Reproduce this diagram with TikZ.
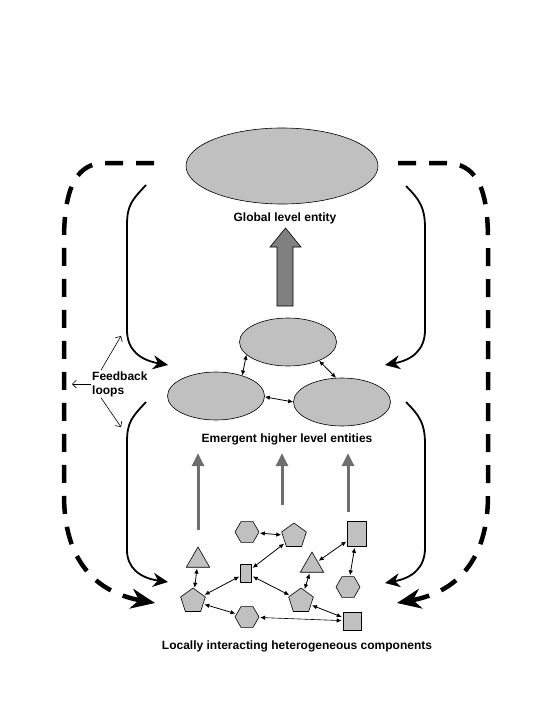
\documentclass[tikz,border=0pt]{standalone}
\usepackage{fontspec}
\setmainfont{Liberation Sans}
\definecolor{entgray}{RGB}{192,192,192}
\definecolor{liftgray}{RGB}{128,128,128}
\definecolor{risegray}{RGB}{110,110,110}
\usetikzlibrary{arrows.meta}
\usetikzlibrary{shapes.geometric}

\begin{document}
\begin{tikzpicture}[x=1pt,y=-1pt,
    entity/.style={ellipse,draw=black,line width=0.6pt,fill=entgray,inner sep=0pt},
    part/.style={regular polygon,draw=black,line width=0.6pt,fill=entgray,inner sep=0pt},
    box/.style={rectangle,draw=black,line width=0.6pt,fill=entgray,inner sep=0pt},
    link/.style={{Latex[length=5pt,width=4.5pt]}-{Latex[length=5pt,width=4.5pt]},line width=0.8pt,shorten <=1pt,shorten >=1pt},
    loopline/.style={-{Stealth[length=15pt,width=14pt]},line width=1.8pt},
    loopdash/.style={-{Stealth[length=24pt,width=20pt]},line width=4.5pt,dash pattern=on 18pt off 13pt},
    rise/.style={-{Triangle[length=13pt,width=12pt]},line width=3pt,draw=risegray,shorten >=5pt},
    fbarrow/.style={-{Straight Barb[length=4pt,width=8pt]},line width=0.6pt},
    lbl/.style={font=\fontsize{12}{14}\selectfont\bfseries}]
    \useasboundingbox (0,0) rectangle (540,720);

    \node[entity,minimum width=192pt,minimum height=76pt] (global) at (282,166) {};
    \node[lbl] (globaltxt) at (285,218) {Global level entity};
    \filldraw[fill=liftgray,line width=0.6pt] (270,247) -- (285.5,228) -- (301,247) -- (293,247) -- (293,306) -- (277,306) -- (277,247) -- cycle;

    \node[entity,minimum width=97pt,minimum height=48pt] (midtop) at (288,342) {};
    \node[entity,minimum width=97pt,minimum height=48pt] (midleft) at (216,396) {};
    \node[entity,minimum width=97pt,minimum height=48pt] (midright) at (342,402) {};
    \draw[link,shorten <=0pt,shorten >=0pt] (midtop.197) -- (midleft.38);
    \draw[link,shorten <=0pt,shorten >=0pt] (midtop.329) -- (midright.104);
    \draw[link,shorten <=0pt,shorten >=0pt] (midleft.359) -- (midright.180);
    \node[lbl] (emerge) at (287,439) {Emergent higher level entities};

    \coordinate (riseA) at (198,530);
    \coordinate (riseB) at (282,505);
    \coordinate (riseC) at (348,512);
    \draw[rise] (riseA) -- (riseA |- emerge.south);
    \draw[rise] (riseB) -- (riseB |- emerge.south);
    \draw[rise] (riseC) -- (riseC |- emerge.south);

    \node[part,regular polygon sides=3,minimum size=27pt] (triA) at (198,560.5) {};
    \node[part,regular polygon sides=5,minimum size=26pt] (pentA) at (193,601) {};
    \node[part,regular polygon sides=6,minimum size=24pt] (hexA) at (247,532) {};
    \node[part,regular polygon sides=5,minimum size=26pt] (pentB) at (294,536) {};
    \node[box,minimum width=11pt,minimum height=18pt] (boxA) at (246,573) {};
    \node[part,regular polygon sides=3,minimum size=27pt] (triB) at (312,565.5) {};
    \node[box,minimum width=19pt,minimum height=25pt] (boxB) at (357,534) {};
    \node[part,regular polygon sides=6,minimum size=24pt] (hexB) at (348,587) {};
    \node[part,regular polygon sides=5,minimum size=26pt] (pentC) at (301,601) {};
    \node[part,regular polygon sides=6,minimum size=24pt] (hexC) at (247,617) {};
    \node[box,minimum size=18pt] (boxC) at (352,621) {};
    \draw[link] (hexA) -- (pentB);
    \draw[link] (pentB) -- (boxA);
    \draw[link] (triA) -- (pentA);
    \draw[link] (pentA) -- (boxA);
    \draw[link] (pentA) -- (hexC);
    \draw[link] (boxA) -- (pentC);
    \draw[link] (triB) -- (pentC);
    \draw[link] (triB) -- (boxB);
    \draw[link] (boxB) -- (hexB);
    \draw[link] (pentC) -- (boxC);
    \draw[link,line width=0.6pt] (hexC) -- (boxC);
    \node[lbl] (local) at (297,646) {Locally interacting heterogeneous components};

    \coordinate (luS) at (146,185);
    \coordinate (luE) at (168,365);
    \coordinate (llS) at (146,402);
    \coordinate (llE) at (168,582);
    \coordinate (ruS) at (406,186);
    \coordinate (ruE) at (385,365);
    \coordinate (rlS) at (406,402);
    \coordinate (rlE) at (385,583);
    \draw[loopline] (luS) .. controls (132,200) and (127,205) .. (127,225) -- (127,330) .. controls (127,350) and (140,360) .. (luE);
    \draw[loopline] (llS) .. controls (132,417) and (127,422) .. (127,442) -- (127,550) .. controls (127,568) and (140,578) .. (llE);
    \draw[loopline] (ruS) .. controls (420,200) and (425,208) .. (425,228) -- (425,330) .. controls (425,350) and (412,360) .. (ruE);
    \draw[loopline] (rlS) .. controls (420,416) and (425,424) .. (425,444) -- (425,548) .. controls (425,568) and (412,578) .. (rlE);

    \coordinate (ldS) at (154,163);
    \coordinate (ldE) at (155,603);
    \coordinate (rdS) at (398,163);
    \coordinate (rdE) at (397,603);
    \draw[loopdash] (ldS) -- (105,163) .. controls (78,163) and (64,185) .. (64,240) -- (64,495) .. controls (64,560) and (95,592) .. (ldE);
    \draw[loopdash] (rdS) -- (445,163) .. controls (475,163) and (488,185) .. (488,240) -- (488,495) .. controls (488,560) and (457,592) .. (rdE);

    \node[lbl,align=left,anchor=west,inner sep=1pt] (feedback) at (91,384) {Feedback\\loops};
    \coordinate (fbUp) at (121,336);
    \coordinate (fbLeft) at (72,384);
    \coordinate (fbDown) at (121,427);
    \draw[fbarrow] ([xshift=10pt]feedback.north west) -- (fbUp);
    \draw[fbarrow] (feedback.west) -- (fbLeft);
    \draw[fbarrow] ([xshift=10pt]feedback.south west) -- (fbDown);
\end{tikzpicture}
\end{document}
